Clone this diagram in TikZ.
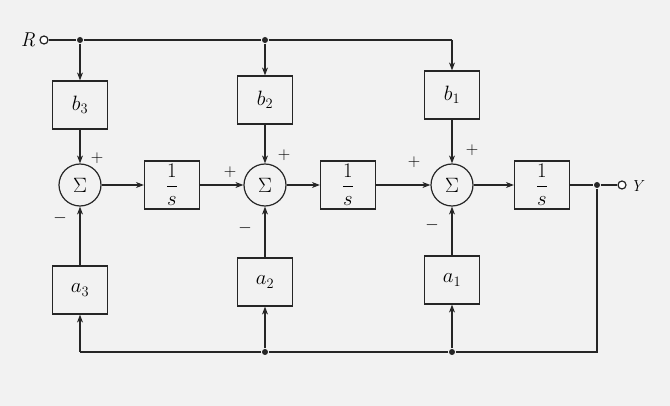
\documentclass[tikz,border=0pt]{standalone}
\usetikzlibrary{arrows.meta}
\begin{document}
\begin{tikzpicture}[x=1pt,y=-1pt,
  line width=1.2pt, draw=black!85,
  >={Stealth[length=8pt,width=6pt]},
  blk/.style={draw=black!85,line width=1.2pt,minimum width=55pt,minimum height=48pt,inner sep=0pt,font=\fontsize{22}{26}\selectfont},
  sum/.style={draw=black!85,line width=1.2pt,circle,minimum size=42pt,inner sep=0pt,font=\fontsize{20}{24}\selectfont},
  sg/.style={font=\fontsize{18}{20}\selectfont},
  dot/.style={circle,fill=black!85,inner sep=0pt,minimum size=6pt},
  port/.style={circle,draw=black!85,line width=1.2pt,fill=white,inner sep=0pt,minimum size=8pt}]
\fill[black!5] (0,0) rectangle (670,406);
\useasboundingbox (0,0) rectangle (670,406);
% nodes
\node[port] (R) at (44,40) {};
\node[font=\fontsize{20}{24}\selectfont\itshape] (Rl) at (28,40) {R};
\node[dot] (t1) at (80,40) {};
\node[dot] (t2) at (265,40) {};
\coordinate (t3) at (452,40);
\node[blk] (b3) at (80,105) {$b_3$};
\node[blk] (b2) at (265,100) {$b_2$};
\node[blk] (b1) at (452,95) {$b_1$};
\node[sum] (s1) at (80,185) {$\Sigma$};
\node[sum] (s2) at (265,185) {$\Sigma$};
\node[sum] (s3) at (452,185) {$\Sigma$};
\node[blk] (i1) at (172,185) {$\displaystyle\frac{1}{s}$};
\node[blk] (i2) at (348,185) {$\displaystyle\frac{1}{s}$};
\node[blk] (i3) at (542,185) {$\displaystyle\frac{1}{s}$};
\node[dot] (o) at (597,185) {};
\node[port] (Y) at (622,185) {};
\node[font=\fontsize{16}{20}\selectfont\itshape,anchor=west] (Yl) at (627,186) {Y};
\node[blk] (a3) at (80,290) {$a_3$};
\node[blk] (a2) at (265,282) {$a_2$};
\node[blk] (a1) at (452,280) {$a_1$};
\coordinate (c0) at (597,352);
\node[dot] (d1) at (452,352) {};
\node[dot] (d2) at (265,352) {};
\coordinate (c3) at (80,352);
% lines
\draw (R) -- (t1) -- (t2) -- (t3);
\draw[->] (t1) -- (b3);
\draw[->] (t2) -- (b2);
\draw[->] (t3) -- (b1);
\draw[->] (b3) -- (s1);
\draw[->] (b2) -- (s2);
\draw[->] (b1) -- (s3);
\draw[->] (s1) -- (i1);
\draw[->] (i1) -- (s2);
\draw[->] (s2) -- (i2);
\draw[->] (i2) -- (s3);
\draw[->] (s3) -- (i3);
\draw (i3.east) -- (o) -- (Y);
\draw (o) -- (c0) -- (d1) -- (d2) -- (c3);
\draw[->] (c3) -- (a3);
\draw[->] (d2) -- (a2);
\draw[->] (d1) -- (a1);
\draw[->] (a3) -- (s1);
\draw[->] (a2) -- (s2);
\draw[->] (a1) -- (s3);
% signs
\node[sg] (p1) at (97,158) {$+$};
\node[sg] (m1) at (60,218) {$-$};
\node[sg] (p2a) at (230,172) {$+$};
\node[sg] (p2b) at (284,155) {$+$};
\node[sg] (m2) at (245,228) {$-$};
\node[sg] (p3a) at (414,162) {$+$};
\node[sg] (p3b) at (472,150) {$+$};
\node[sg] (m3) at (432,225) {$-$};
\end{tikzpicture}
\end{document}
